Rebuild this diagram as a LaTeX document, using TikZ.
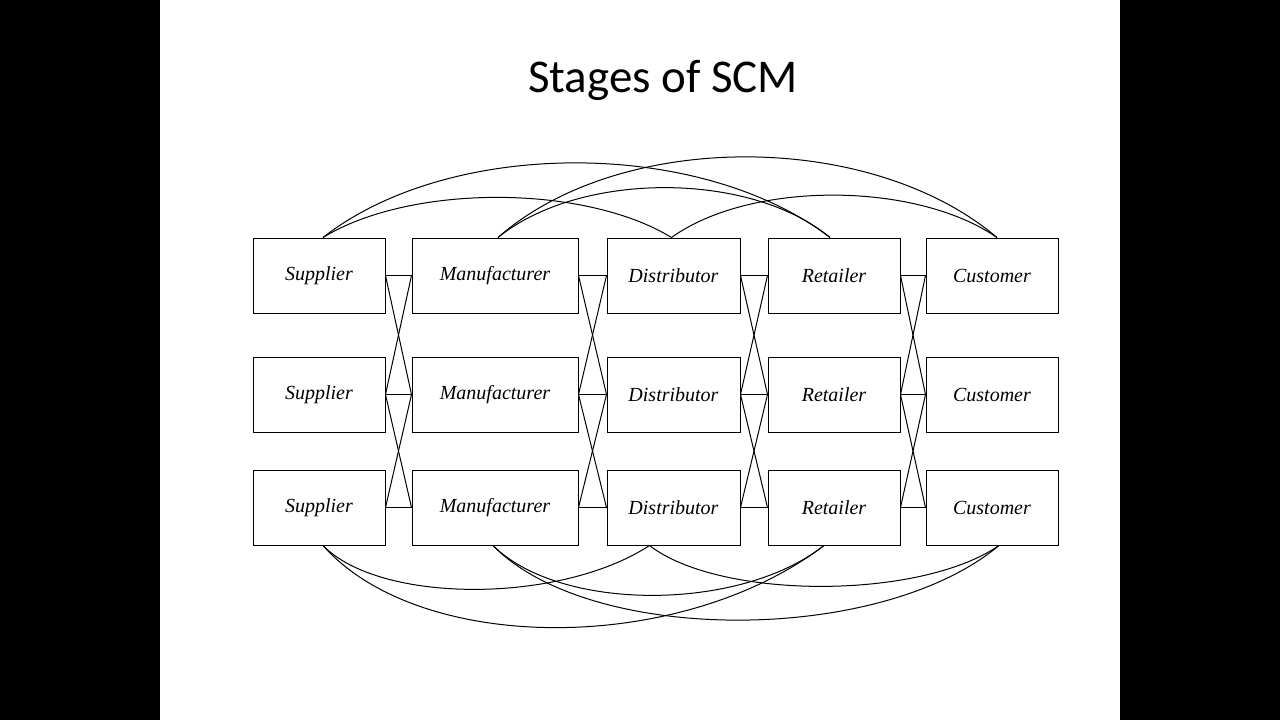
\documentclass[tikz,border=0pt]{standalone}
\usepackage{fontspec}
\setmainfont{Liberation Serif}
\newfontfamily\titlef{Carlito}
\begin{document}
\begin{tikzpicture}[x=1pt,y=-1pt,
  box/.style={draw,line width=1pt,minimum height=75pt,inner sep=0pt,font=\fontsize{20}{22}\selectfont\itshape},
  ln/.style={line width=1pt}]
\useasboundingbox (0,0) rectangle (1280,720);
\fill[black] (0,0) rectangle (160,720);
\fill[black] (1120,0) rectangle (1280,720);
\node[font=\titlef\fontsize{47}{50}\selectfont] (title) at (663,80) {Stages of SCM};
\def\rows{{275.5,394.5,507.5}}
\foreach \r/\y in {1/275.5,2/394.5,3/507.5}{
  \node[box,minimum width=132pt] (s\r) at (319,\y) {Supplier};
  \node[box,minimum width=166pt] (m\r) at (495,\y) {Manufacturer};
  \node[box,minimum width=133pt] (d\r) at (673.5,\y) {Distributor};
  \node[box,minimum width=132pt] (r\r) at (834,\y) {Retailer};
  \node[box,minimum width=132pt] (c\r) at (992,\y) {Customer};
}
\foreach \a/\b in {s/m,m/d,d/r,r/c}{
  \foreach \i in {1,2,3}{\draw[ln] (\a\i.east) -- (\b\i.west);}
  \draw[ln] (\a1.east) -- (\b2.west);
  \draw[ln] (\a2.east) -- (\b1.west);
  \draw[ln] (\a2.east) -- (\b3.west);
  \draw[ln] (\a3.east) -- (\b2.west);
}
% top arcs
\coordinate (ts) at ([xshift=4pt]s1.north);
\coordinate (tm) at ([xshift=3pt]m1.north);
\coordinate (td) at ([xshift=-2pt]d1.north);
\coordinate (tr) at ([xshift=-4pt]r1.north);
\coordinate (tc) at ([xshift=5pt]c1.north);
\draw[ln] (ts) .. controls (410,184) and (584,184) .. (td);
\draw[ln] (ts) .. controls (450,138) and (700,138) .. (tr);
\draw[ln] (tm) .. controls (580,171) and (750,171) .. (tr);
\draw[ln] (tm) .. controls (620,130) and (870,130) .. (tc);
\draw[ln] (td) .. controls (750,181) and (915,181) .. (tc);
% bottom arcs
\coordinate (bs) at ([xshift=4pt]s3.south);
\coordinate (bm) at ([xshift=-2pt]m3.south);
\coordinate (bd) at ([xshift=-24pt]d3.south);
\coordinate (br) at ([xshift=-10pt]r3.south);
\coordinate (bc) at ([xshift=7pt]c3.south);
\draw[ln] (bs) .. controls (380,604) and (560,604) .. (bd);
\draw[ln] (bs) .. controls (420,655) and (680,655) .. (br);
\draw[ln] (bm) .. controls (560,612) and (740,612) .. (br);
\draw[ln] (bm) .. controls (590,645) and (880,645) .. (bc);
\draw[ln] (bd) .. controls (720,600) and (920,600) .. (bc);
\end{tikzpicture}
\end{document}
